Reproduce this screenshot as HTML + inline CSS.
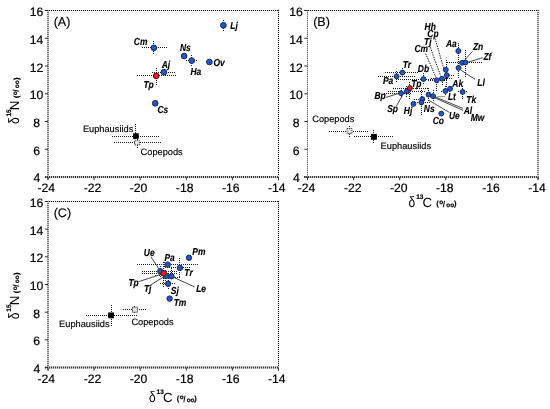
<!DOCTYPE html>
<html lang="en"><head><meta charset="utf-8"><title>Stable isotope biplots</title>
<style>
html,body{margin:0;padding:0;background:#fff;}
svg{display:block;}
text{fill:#000;text-rendering:geometricPrecision;}
.tl{font-family:'Liberation Sans',Arial,sans-serif;font-size:12.2px;stroke:#000;stroke-width:0.2px;}
.pl{font-family:'Liberation Sans',Arial,sans-serif;font-size:12.6px;stroke:#000;stroke-width:0.15px;}
.at{font-family:'Liberation Sans',Arial,sans-serif;font-size:13.3px;}
.dl{font-family:'Liberation Sans',Arial,sans-serif;font-size:15px;}
.sup{font-family:'Liberation Sans',Arial,sans-serif;font-size:6.5px;font-weight:bold;stroke:#000;stroke-width:0.2px;}
.pm{font-family:'Liberation Sans',Arial,sans-serif;font-size:7.6px;font-weight:bold;stroke:#000;stroke-width:0.15px;}
.ps{font-family:'Liberation Sans',Arial,sans-serif;font-size:8.6px;font-weight:bold;}
.pmo{font-family:'Liberation Sans',Arial,sans-serif;font-size:6.4px;font-weight:bold;stroke:#000;stroke-width:0.2px;}
.sl{font-family:'Liberation Sans',Arial,sans-serif;font-size:10.2px;font-weight:bold;font-style:italic;stroke:#000;stroke-width:0.15px;}
.gl{font-family:'Liberation Sans',Arial,sans-serif;font-size:9.25px;stroke:#000;stroke-width:0.15px;}
.axl{stroke:#707070;stroke-dasharray:1 1;fill:none;}
.axb{stroke:#3c3c3c;stroke-dasharray:1 1;fill:none;}
.ax1{stroke:#000;stroke-width:1;stroke-dasharray:1 1;fill:none;}
.u1{stroke:#d0d0d0;stroke-width:1;fill:none;}
.u2{stroke:#c4c4c4;fill:none;}
.tk{stroke:#333;stroke-width:1;}
.eb{stroke:#1a1a1a;stroke-width:1;stroke-dasharray:1 1;fill:none;}
.ld{stroke:#333;stroke-width:0.9;fill:none;}
.ldd{stroke:#111;stroke-width:1;stroke-dasharray:1.4 1.1;fill:none;}
.bp{fill:#2456c4;stroke:#16285c;stroke-width:1.0;}
.rp{fill:#f81818;stroke:#4a0c0c;stroke-width:1.0;}
</style></head>
<body>
<svg width="550" height="409" viewBox="0 0 550 409">
<rect width="550" height="409" fill="#fff"/>
<path d="M45 10.5H279.0" class="u1"/><path d="M45 10.5H279.0" class="ax1"/>
<path d="M278.5 10.0V180" class="u1" stroke-width="1.0"/><path d="M278.5 10.0V180" class="ax1" stroke-width="1.0"/>
<path d="M48 10.0V180" class="u2" stroke-width="1.7"/><path d="M48 10.0V180" class="axl" stroke-width="1.7"/>
<path d="M45 177H279.0" class="u2" stroke-width="1.8"/><path d="M45 177H279.0" class="axb" stroke-width="1.8"/>
<line x1="44.8" y1="10.5" x2="48" y2="10.5" class="tk"/>
<text x="29.7" y="15.99" class="tl">16</text>
<line x1="44.8" y1="38.25" x2="48" y2="38.25" class="tk"/>
<text x="29.64" y="43.74" class="tl">14</text>
<line x1="44.8" y1="66" x2="48" y2="66" class="tk"/>
<text x="29.76" y="71.55" class="tl">12</text>
<line x1="44.8" y1="93.75" x2="48" y2="93.75" class="tk"/>
<text x="29.7" y="99.24" class="tl">10</text>
<line x1="44.8" y1="121.5" x2="48" y2="121.5" class="tk"/>
<text x="33.33" y="126.99" class="tl">8</text>
<line x1="44.8" y1="149.25" x2="48" y2="149.25" class="tk"/>
<text x="33.26" y="154.74" class="tl">6</text>
<line x1="44.8" y1="177" x2="48" y2="177" class="tk"/>
<text x="33.39" y="182.49" class="tl">4</text>
<line x1="48" y1="177" x2="48" y2="180.2" class="tk"/>
<text x="37.46" y="192.32" class="tl">-24</text>
<line x1="94.1" y1="177" x2="94.1" y2="180.2" class="tk"/>
<text x="83.69" y="192.32" class="tl">-22</text>
<line x1="140.2" y1="177" x2="140.2" y2="180.2" class="tk"/>
<text x="129.72" y="192.32" class="tl">-20</text>
<line x1="186.3" y1="177" x2="186.3" y2="180.2" class="tk"/>
<text x="175.83" y="192.32" class="tl">-18</text>
<line x1="232.4" y1="177" x2="232.4" y2="180.2" class="tk"/>
<text x="221.99" y="192.32" class="tl">-16</text>
<line x1="278.5" y1="177" x2="278.5" y2="180.2" class="tk"/>
<text x="267.96" y="192.2" class="tl">-14</text>
<text x="53.65" y="25.75" class="pl">(A)</text>
<g transform="translate(19.1,123.6) rotate(-90)">
<text transform="translate(-0.5,0.08) scale(0.8,1)" class="dl">δ</text>
<text x="7.05" y="-7.62" class="sup">15</text>
<text x="13.47" y="0" class="at">N</text>
<text x="25.55" y="-0.43" class="pm">(</text>
<text x="28.48" y="-2.42" class="pmo">o</text>
<text x="31.88" y="0.28" class="ps">/</text>
<text x="35.48" y="0.08" class="pmo">oo</text>
<text x="43.73" y="-0.43" class="pm">)</text>
</g>
<path d="M142 47.5H167" class="eb"/>
<path d="M153.5 41V55" class="eb"/>
<path d="M186 60.5H198" class="eb"/>
<path d="M191.5 55V66" class="eb"/>
<path d="M152 72.5H176" class="eb"/>
<path d="M163.5 67V76" class="eb"/>
<path d="M137 75.5H176" class="eb"/>
<path d="M156.5 68V85" class="eb"/>
<path d="M223.5 20V32" class="eb"/>
<path d="M112 136.5H159" class="eb"/>
<path d="M135.5 124V140" class="eb"/>
<path d="M114 142.5H161" class="eb"/>
<path d="M137.5 139V149" class="eb"/>
<circle cx="223.4" cy="25.3" r="2.85" class="bp"/>
<circle cx="153.9" cy="47.8" r="2.85" class="bp"/>
<circle cx="184.1" cy="56.0" r="2.85" class="bp"/>
<circle cx="191.7" cy="60.6" r="2.85" class="bp"/>
<circle cx="209.4" cy="62.0" r="2.85" class="bp"/>
<circle cx="163.9" cy="72.2" r="2.85" class="bp"/>
<circle cx="155.2" cy="103.3" r="2.85" class="bp"/>
<circle cx="156.2" cy="75.9" r="2.85" class="rp"/>
<rect x="134.65" y="140.25" width="4.7" height="4.7" fill="#e6e6e6" stroke="#222" stroke-width="0.9" stroke-dasharray="1.2 0.9"/>
<rect x="133.55" y="133.75" width="4.7" height="4.7" fill="#000" stroke="#000" stroke-width="0.8"/>
<text transform="translate(230.31,29.1) scale(0.83,1)" class="sl">Lj</text>
<text transform="translate(133.78,44.72) scale(0.83,1)" class="sl">Cm</text>
<text transform="translate(179.88,51.22) scale(0.83,1)" class="sl">Ns</text>
<text transform="translate(190.38,74.62) scale(0.83,1)" class="sl">Ha</text>
<text transform="translate(213.39,66.32) scale(0.83,1)" class="sl">Ov</text>
<text transform="translate(161.66,67.9) scale(0.83,1)" class="sl">Aj</text>
<text transform="translate(143.44,87.83) scale(0.83,1)" class="sl">Tp</text>
<text transform="translate(157.4,113.02) scale(0.83,1)" class="sl">Cs</text>
<text x="82.88" y="131.95" class="gl">Euphausiids</text>
<text x="140.57" y="154.75" class="gl">Copepods</text>
<path d="M304 10.5H538.5" class="u1"/><path d="M304 10.5H538.5" class="ax1"/>
<path d="M538 10.0V180" class="u1" stroke-width="1.4"/><path d="M538 10.0V180" class="ax1" stroke-width="1.4"/>
<path d="M307.5 10.0V180" class="u2" stroke-width="1.0"/><path d="M307.5 10.0V180" class="axl" stroke-width="1.0"/>
<path d="M304 177H538.5" class="u2" stroke-width="1.8"/><path d="M304 177H538.5" class="axb" stroke-width="1.8"/>
<line x1="304.3" y1="10.5" x2="307.5" y2="10.5" class="tk"/>
<text x="289.2" y="15.99" class="tl">16</text>
<line x1="304.3" y1="38.25" x2="307.5" y2="38.25" class="tk"/>
<text x="289.14" y="43.74" class="tl">14</text>
<line x1="304.3" y1="66" x2="307.5" y2="66" class="tk"/>
<text x="289.26" y="71.55" class="tl">12</text>
<line x1="304.3" y1="93.75" x2="307.5" y2="93.75" class="tk"/>
<text x="289.2" y="99.24" class="tl">10</text>
<line x1="304.3" y1="121.5" x2="307.5" y2="121.5" class="tk"/>
<text x="292.82" y="126.99" class="tl">8</text>
<line x1="304.3" y1="149.25" x2="307.5" y2="149.25" class="tk"/>
<text x="292.76" y="154.74" class="tl">6</text>
<line x1="304.3" y1="177" x2="307.5" y2="177" class="tk"/>
<text x="292.89" y="182.49" class="tl">4</text>
<line x1="307.5" y1="177" x2="307.5" y2="180.2" class="tk"/>
<text x="297.66" y="192.32" class="tl">-24</text>
<line x1="353.6" y1="177" x2="353.6" y2="180.2" class="tk"/>
<text x="343.89" y="192.32" class="tl">-22</text>
<line x1="399.7" y1="177" x2="399.7" y2="180.2" class="tk"/>
<text x="389.93" y="192.32" class="tl">-20</text>
<line x1="445.8" y1="177" x2="445.8" y2="180.2" class="tk"/>
<text x="436.03" y="192.32" class="tl">-18</text>
<line x1="491.9" y1="177" x2="491.9" y2="180.2" class="tk"/>
<text x="482.19" y="192.32" class="tl">-16</text>
<line x1="538" y1="177" x2="538" y2="180.2" class="tk"/>
<text x="528.16" y="192.2" class="tl">-14</text>
<text x="313.15" y="25.75" class="pl">(B)</text>
<g transform="translate(409.1,206.9)">
<text transform="translate(-0.5,0.08) scale(0.8,1)" class="dl">δ</text>
<text x="7.05" y="-7.62" class="sup">13</text>
<text x="13.38" y="0.08" class="at">C</text>
<text x="27.25" y="-0.43" class="pm">(</text>
<text x="30.18" y="-2.42" class="pmo">o</text>
<text x="33.77" y="0.28" class="ps">/</text>
<text x="37.17" y="0.08" class="pmo">oo</text>
<text x="44.83" y="-0.43" class="pm">)</text>
</g>
<path d="M385 72.5H419" class="eb"/>
<path d="M402.5 68V77" class="eb"/>
<path d="M378 76.5H415" class="eb"/>
<path d="M396.5 71V82" class="eb"/>
<path d="M398 79.5H447" class="eb"/>
<path d="M423.5 73V85" class="eb"/>
<path d="M393 88.5H428" class="eb"/>
<path d="M409.5 82V99" class="eb"/>
<path d="M388 91.5H426" class="eb"/>
<path d="M406.5 86V97" class="eb"/>
<path d="M384 93.5H412" class="eb"/>
<path d="M401.5 88V98" class="eb"/>
<path d="M414 99.5H425" class="eb"/>
<path d="M421.5 88V116" class="eb"/>
<path d="M417 102.5H430" class="eb"/>
<path d="M428.5 88V101" class="eb"/>
<path d="M433.5 90V102" class="eb"/>
<path d="M428 80.5H447" class="eb"/>
<path d="M436.5 80V92" class="eb"/>
<path d="M431 78.5H452" class="eb"/>
<path d="M442.5 78V85" class="eb"/>
<path d="M447 75.5H455" class="eb"/>
<path d="M446.5 60V88" class="eb"/>
<path d="M458.5 43V79" class="eb"/>
<path d="M447 62.5H483" class="eb"/>
<path d="M465.5 50V77" class="eb"/>
<path d="M458 91.5H468" class="eb"/>
<path d="M462.5 86V99" class="eb"/>
<path d="M441 91.5H450" class="eb"/>
<path d="M445.5 86V96" class="eb"/>
<path d="M329 131.5H369" class="eb"/>
<path d="M349.5 126V137" class="eb"/>
<path d="M354 136.5H394" class="eb"/>
<path d="M373.5 130V143" class="eb"/>
<line x1="435" y1="38.4" x2="443.8" y2="68.6" class="ldd"/>
<line x1="430.3" y1="47.3" x2="440.6" y2="75.8" class="ldd"/>
<line x1="425.6" y1="53.6" x2="435.9" y2="77.3" class="ldd"/>
<line x1="472.5" y1="51.4" x2="464.9" y2="59.8" class="ld"/>
<line x1="482.9" y1="57.6" x2="468.1" y2="62.2" class="ld"/>
<line x1="475.1" y1="79.4" x2="461.2" y2="70.3" class="ld"/>
<line x1="385.8" y1="97.5" x2="399.2" y2="93.2" class="ld"/>
<line x1="402.1" y1="96" x2="396.6" y2="105.7" class="ld"/>
<line x1="449.3" y1="112.4" x2="429" y2="100.4" class="ld"/>
<line x1="462.9" y1="108.4" x2="434.0" y2="96.4" class="ld"/>
<line x1="437.3" y1="96.7" x2="445.1" y2="96.7" stroke="#888" stroke-width="1"/>
<line x1="463.0" y1="110.3" x2="434.4" y2="97.7" class="ld"/>
<circle cx="402.4" cy="72.6" r="2.45" class="bp"/>
<circle cx="396.6" cy="76.4" r="2.45" class="bp"/>
<circle cx="423.4" cy="79.1" r="2.45" class="bp"/>
<circle cx="436.7" cy="80.3" r="2.45" class="bp"/>
<circle cx="442.0" cy="78.7" r="2.45" class="bp"/>
<circle cx="446.8" cy="75.2" r="2.45" class="bp"/>
<circle cx="445.8" cy="69.8" r="2.45" class="bp"/>
<circle cx="458.5" cy="67.9" r="2.45" class="bp"/>
<circle cx="462.1" cy="62.8" r="2.45" class="bp"/>
<circle cx="465.5" cy="62.5" r="2.45" class="bp"/>
<circle cx="458.3" cy="51.0" r="2.45" class="bp"/>
<circle cx="450.1" cy="88.8" r="2.45" class="bp"/>
<circle cx="445.4" cy="91.0" r="2.45" class="bp"/>
<circle cx="462.6" cy="91.9" r="2.45" class="bp"/>
<circle cx="428.5" cy="94.6" r="2.45" class="bp"/>
<circle cx="433.1" cy="96.2" r="2.45" class="bp"/>
<circle cx="406.9" cy="91.2" r="2.45" class="bp"/>
<circle cx="401.1" cy="93.2" r="2.45" class="bp"/>
<circle cx="422.3" cy="99.1" r="2.45" class="bp"/>
<circle cx="421.4" cy="102.4" r="2.45" class="bp"/>
<circle cx="413.5" cy="103.9" r="2.45" class="bp"/>
<circle cx="441.3" cy="113.6" r="2.45" class="bp"/>
<circle cx="409.9" cy="88.1" r="2.45" class="rp"/>
<rect x="347.00" y="128.50" width="5.0" height="5.0" fill="#e2e2e2" stroke="#222" stroke-width="0.9" stroke-dasharray="1.2 0.9"/>
<rect x="371.40" y="134.30" width="5.0" height="5.0" fill="#000" stroke="#000" stroke-width="0.8"/>
<text transform="translate(424.54,30.3) scale(0.83,1)" class="sl">Hh</text>
<text transform="translate(427.36,37.33) scale(0.83,1)" class="sl">Cp</text>
<text transform="translate(423.98,45) scale(0.83,1)" class="sl">Tj</text>
<text transform="translate(414.43,52.22) scale(0.83,1)" class="sl">Cm</text>
<text transform="translate(445.96,46.72) scale(0.83,1)" class="sl">Aa</text>
<text transform="translate(472.88,49.62) scale(0.83,1)" class="sl">Zn</text>
<text transform="translate(483.4,60) scale(0.83,1)" class="sl">Zf</text>
<text transform="translate(402.68,68.42) scale(0.83,1)" class="sl">Tr</text>
<text transform="translate(417.83,71.6) scale(0.83,1)" class="sl">Db</text>
<text transform="translate(382.93,83.72) scale(0.83,1)" class="sl">Pa</text>
<text transform="translate(411.14,86.72) scale(0.83,1)" class="sl">Tp</text>
<text transform="translate(374.44,99.33) scale(0.83,1)" class="sl">Bp</text>
<text transform="translate(477.36,86.4) scale(0.83,1)" class="sl">Ll</text>
<text transform="translate(452.35,87.1) scale(0.83,1)" class="sl">Ak</text>
<text transform="translate(447.95,99.72) scale(0.83,1)" class="sl">Lt</text>
<text transform="translate(466.21,103.3) scale(0.83,1)" class="sl">Tk</text>
<text transform="translate(387.14,111.52) scale(0.83,1)" class="sl">Sp</text>
<text transform="translate(403.78,114.1) scale(0.83,1)" class="sl">Hj</text>
<text transform="translate(423.78,112.12) scale(0.83,1)" class="sl">Ns</text>
<text transform="translate(432.76,123.72) scale(0.83,1)" class="sl">Co</text>
<text transform="translate(449,119.02) scale(0.83,1)" class="sl">Ue</text>
<text transform="translate(463.66,113.6) scale(0.83,1)" class="sl">Al</text>
<text transform="translate(470.78,120.52) scale(0.83,1)" class="sl">Mw</text>
<text x="312.23" y="122.45" class="gl">Copepods</text>
<text x="380.62" y="148.65" class="gl">Euphausiids</text>
<path d="M45 201.5H279.0" class="u1"/><path d="M45 201.5H279.0" class="ax1"/>
<path d="M278.5 201.0V370.5" class="u1" stroke-width="1.0"/><path d="M278.5 201.0V370.5" class="ax1" stroke-width="1.0"/>
<path d="M48 201.0V370.5" class="u2" stroke-width="1.7"/><path d="M48 201.0V370.5" class="axl" stroke-width="1.7"/>
<path d="M45 367.5H279.0" class="u2" stroke-width="1.8"/><path d="M45 367.5H279.0" class="axb" stroke-width="1.8"/>
<line x1="44.8" y1="201.5" x2="48" y2="201.5" class="tk"/>
<text x="29.7" y="206.99" class="tl">16</text>
<line x1="44.8" y1="229.17" x2="48" y2="229.17" class="tk"/>
<text x="29.64" y="234.65" class="tl">14</text>
<line x1="44.8" y1="256.83" x2="48" y2="256.83" class="tk"/>
<text x="29.76" y="262.38" class="tl">12</text>
<line x1="44.8" y1="284.5" x2="48" y2="284.5" class="tk"/>
<text x="29.7" y="289.99" class="tl">10</text>
<line x1="44.8" y1="312.17" x2="48" y2="312.17" class="tk"/>
<text x="33.33" y="317.65" class="tl">8</text>
<line x1="44.8" y1="339.83" x2="48" y2="339.83" class="tk"/>
<text x="33.26" y="345.32" class="tl">6</text>
<line x1="44.8" y1="367.5" x2="48" y2="367.5" class="tk"/>
<text x="33.39" y="372.99" class="tl">4</text>
<line x1="48" y1="367.5" x2="48" y2="370.7" class="tk"/>
<text x="37.46" y="382.82" class="tl">-24</text>
<line x1="94.1" y1="367.5" x2="94.1" y2="370.7" class="tk"/>
<text x="83.69" y="382.82" class="tl">-22</text>
<line x1="140.2" y1="367.5" x2="140.2" y2="370.7" class="tk"/>
<text x="129.72" y="382.82" class="tl">-20</text>
<line x1="186.3" y1="367.5" x2="186.3" y2="370.7" class="tk"/>
<text x="175.83" y="382.82" class="tl">-18</text>
<line x1="232.4" y1="367.5" x2="232.4" y2="370.7" class="tk"/>
<text x="221.99" y="382.82" class="tl">-16</text>
<line x1="278.5" y1="367.5" x2="278.5" y2="370.7" class="tk"/>
<text x="267.96" y="382.7" class="tl">-14</text>
<text x="53.65" y="216.75" class="pl">(C)</text>
<g transform="translate(19.1,318.7) rotate(-90)">
<text transform="translate(-0.5,0.08) scale(0.8,1)" class="dl">δ</text>
<text x="7.05" y="-7.62" class="sup">15</text>
<text x="13.47" y="0" class="at">N</text>
<text x="25.55" y="-0.43" class="pm">(</text>
<text x="28.48" y="-2.42" class="pmo">o</text>
<text x="31.88" y="0.28" class="ps">/</text>
<text x="35.48" y="0.08" class="pmo">oo</text>
<text x="43.73" y="-0.43" class="pm">)</text>
</g>
<g transform="translate(149.5,401.5)">
<text transform="translate(-0.5,0.08) scale(0.8,1)" class="dl">δ</text>
<text x="7.05" y="-7.62" class="sup">13</text>
<text x="13.38" y="0.08" class="at">C</text>
<text x="27.25" y="-0.43" class="pm">(</text>
<text x="30.18" y="-2.42" class="pmo">o</text>
<text x="33.77" y="0.28" class="ps">/</text>
<text x="37.17" y="0.08" class="pmo">oo</text>
<text x="44.83" y="-0.43" class="pm">)</text>
</g>
<path d="M137 264.5H199" class="eb"/>
<path d="M164.5 262V268" class="eb"/>
<path d="M165 267.5H190" class="eb"/>
<path d="M179.5 258V278" class="eb"/>
<path d="M142 271.5H178" class="eb"/>
<path d="M160.5 266V277" class="eb"/>
<path d="M142 273.5H178" class="eb"/>
<path d="M163.5 262V288" class="eb"/>
<path d="M155 275.5H175" class="eb"/>
<path d="M165.5 270V282" class="eb"/>
<path d="M165 277.5H180" class="eb"/>
<path d="M171.5 268V279" class="eb"/>
<path d="M160 283.5H176" class="eb"/>
<path d="M168.5 278V289" class="eb"/>
<path d="M123 309.5H147" class="eb"/>
<path d="M134.5 306V313" class="eb"/>
<path d="M86 315.5H137" class="eb"/>
<path d="M111.5 305V326" class="eb"/>
<line x1="150.9" y1="256.7" x2="159.1" y2="269.1" class="ld"/>
<line x1="139.1" y1="281.5" x2="161.5" y2="274.2" class="ld"/>
<line x1="151.3" y1="284.5" x2="164.5" y2="276.4" class="ld"/>
<line x1="194.5" y1="286.9" x2="173.6" y2="277.3" class="ld"/>
<circle cx="189.0" cy="257.7" r="2.7" class="bp"/>
<circle cx="167.7" cy="264.6" r="2.7" class="bp"/>
<circle cx="179.9" cy="267.9" r="2.7" class="bp"/>
<circle cx="160.3" cy="271.3" r="2.7" class="bp"/>
<circle cx="165.9" cy="275.9" r="2.7" class="bp"/>
<circle cx="171.4" cy="276.3" r="2.7" class="bp"/>
<circle cx="168.1" cy="283.7" r="2.7" class="bp"/>
<circle cx="169.6" cy="298.6" r="2.7" class="bp"/>
<circle cx="163.6" cy="273.3" r="2.7" class="rp"/>
<rect x="132.40" y="307.20" width="5.0" height="5.0" fill="#e6e6e6" stroke="#666" stroke-width="0.9"/>
<rect x="108.60" y="312.90" width="5.0" height="5.0" fill="#000" stroke="#000" stroke-width="0.8"/>
<text transform="translate(192.35,254.62) scale(0.83,1)" class="sl">Pm</text>
<text transform="translate(164.47,260.62) scale(0.83,1)" class="sl">Pa</text>
<text transform="translate(184.37,276.43) scale(0.83,1)" class="sl">Tr</text>
<text transform="translate(143.85,255.93) scale(0.83,1)" class="sl">Ue</text>
<text transform="translate(128.44,285.53) scale(0.83,1)" class="sl">Tp</text>
<text transform="translate(143.88,291.9) scale(0.83,1)" class="sl">Tj</text>
<text transform="translate(196.17,291.53) scale(0.83,1)" class="sl">Le</text>
<text transform="translate(170.74,294.1) scale(0.83,1)" class="sl">Sj</text>
<text transform="translate(173.66,305.53) scale(0.83,1)" class="sl">Tm</text>
<text x="59.12" y="326.75" class="gl">Euphausiids</text>
<text x="131.38" y="324.85" class="gl">Copepods</text>
</svg>
</body></html>
